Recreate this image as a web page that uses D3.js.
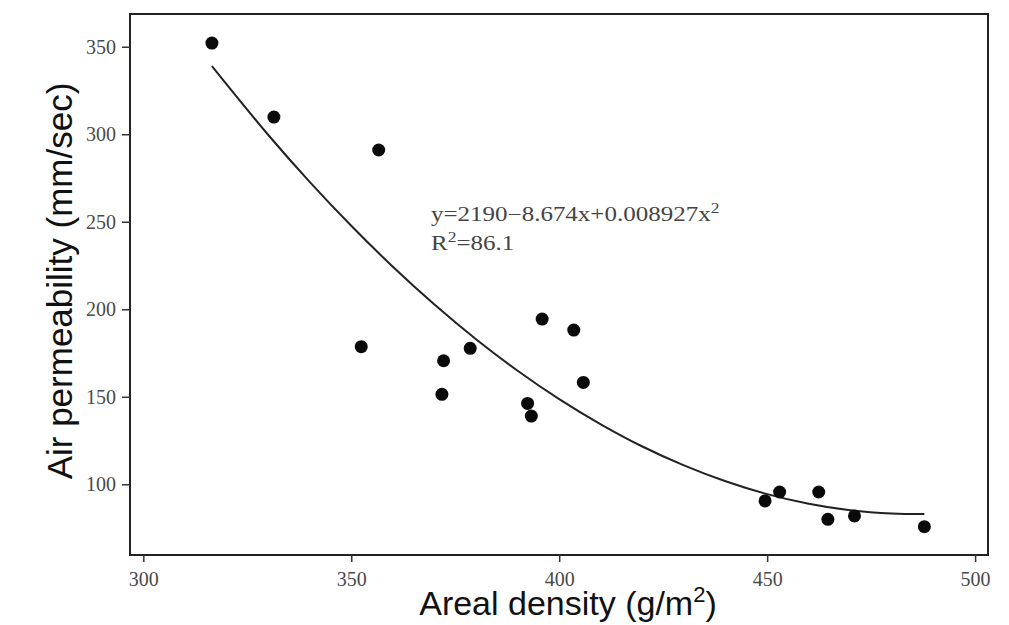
<!DOCTYPE html>
<html>
  <head>
    <meta charset='utf-8' />
    <title>Air permeability vs areal density</title>
    <script src="https://cdn.jsdelivr.net/npm/d3@7"></script>
    <style>
    body { margin: 0; background: #fff; }
    .tick text { font-family: "Liberation Serif", "DejaVu Serif", serif; fill: #4a4a4a; }
    .tick line { stroke: #333; stroke-width: 1.5px; }
    .title { font-family: "Liberation Sans", Arial, sans-serif; fill: #111; }
    .eq { font-family: "Liberation Serif", serif; fill: #444; }
    </style>
  </head>
<body>
<svg id="chart"></svg>
<script type="text/javascript">
// measured samples
var arealDensity = [316.5, 331.4, 356.6, 352.4, 372.2, 371.8, 378.6, 395.9, 403.5, 405.8, 392.4, 393.3,
  449.5, 453.0, 462.4, 464.6, 471.0, 487.8];
var airPerm = [352.1, 309.8, 291.0, 178.6, 170.6, 151.4, 177.7, 194.4, 188.1, 158.2, 146.2, 139.0,
  90.5, 95.6, 95.6, 80.0, 81.9, 75.8];

// fitted curve
var fitX = [316.5, 330, 340, 350, 360, 370, 380, 390, 400, 410, 420, 430, 440, 450, 460, 470, 480, 487.8];
var fitY = [338.9, 299.7, 272.8, 247.7, 224.3, 202.7, 182.9, 164.9, 148.7, 134.3, 121.6, 110.8, 101.7, 94.4, 88.9, 85.2, 83.3, 83.0];

var xTicks = [300, 350, 400, 450, 500];
var yTicks = [100, 150, 200, 250, 300, 350];

var width = 1009, height = 625;
var margin = {top: 14, right: 21, bottom: 70, left: 130};

var svg = d3.select("#chart").attr("width", width).attr("height", height);

var x = d3.scaleLinear().domain([296.8, 503.1]).range([margin.left, width - margin.right]);
var y = d3.scaleLinear().domain([59.6, 368.7]).range([height - margin.bottom, margin.top]);

svg.append("rect")
  .attr("x", margin.left).attr("y", margin.top)
  .attr("width", width - margin.left - margin.right)
  .attr("height", height - margin.top - margin.bottom)
  .attr("fill", "none").attr("stroke", "#222").attr("stroke-width", 2);

var xAxis = svg.append("g")
  .attr("transform", "translate(0," + (height - margin.bottom) + ")")
  .call(d3.axisBottom(x).tickValues(xTicks).tickSize(7).tickPadding(10));
xAxis.select(".domain").remove();
xAxis.selectAll("text").style("font-size", "20px");

var yAxis = svg.append("g")
  .attr("transform", "translate(" + margin.left + ",0)")
  .call(d3.axisLeft(y).tickValues(yTicks).tickSize(8).tickPadding(6));
yAxis.select(".domain").remove();
yAxis.selectAll("text").style("font-size", "20px");

var line = d3.line()
  .x(function(d, i) { return x(fitX[i]); })
  .y(function(d, i) { return y(fitY[i]); })
  .curve(d3.curveCatmullRom);

svg.append("path")
  .datum(fitX)
  .attr("d", line)
  .attr("fill", "none")
  .attr("stroke", "#222")
  .attr("stroke-width", 2);

svg.append("g").selectAll("circle")
  .data(arealDensity)
  .enter().append("circle")
  .attr("cx", function(d) { return x(d); })
  .attr("cy", function(d, i) { return y(airPerm[i]); })
  .attr("r", 6.5)
  .attr("fill", "#0a0a0a");

// equation, stretched a little like the original
var eqG = svg.append("g").attr("transform", "translate(431,0) scale(1.25,1)");
var eq = eqG.append("text").attr("class", "eq")
  .attr("x", 0).attr("y", 221)
  .style("font-size", "20px");
eq.append("tspan").text("y=2190\u22128.674x+0.008927x");
eq.append("tspan").attr("dy", -8).style("font-size", "14px").text("2");

var r2 = eqG.append("text").attr("class", "eq")
  .attr("x", 0).attr("y", 250)
  .style("font-size", "20px");
r2.append("tspan").text("R");
r2.append("tspan").attr("dy", -8).style("font-size", "14px").text("2");
r2.append("tspan").attr("dy", 8).text("=86.1");

// axis titles
var xt = svg.append("text").attr("class", "title")
  .attr("x", 568).attr("y", 615)
  .attr("text-anchor", "middle")
  .style("font-size", "34px");
xt.append("tspan").text("Areal density (g/m");
xt.append("tspan").attr("dy", -13).style("font-size", "22px").text("2");
xt.append("tspan").attr("dy", 13).text(")");

svg.append("text").attr("class", "title")
  .attr("transform", "translate(72,281) rotate(-90)")
  .attr("text-anchor", "middle")
  .style("font-size", "35px")
  .text("Air permeability (mm/sec)");
</script>
</body>
</html>
